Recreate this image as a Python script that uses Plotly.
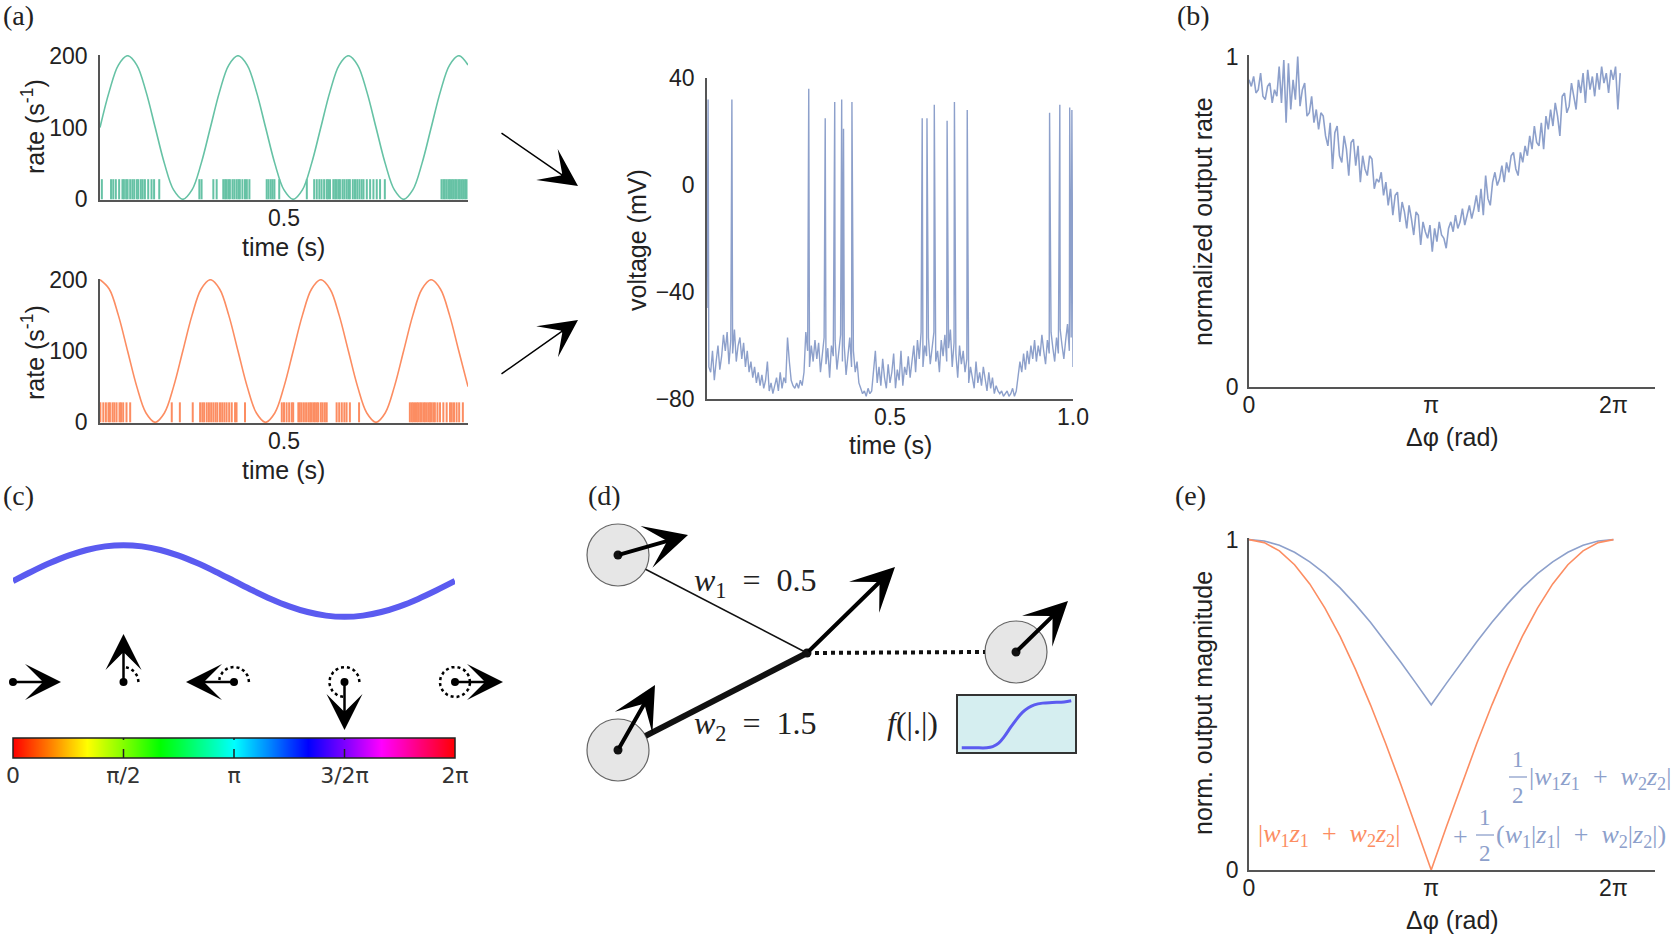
import numpy as np
import plotly.graph_objects as go

W, H = 1678, 934
PI = np.pi
SANS = 'Liberation Sans'
SERIF = 'Liberation Serif'
GREEN, ORANGE, BLUE = '#66c2a5', '#fc8d62', '#8da0cb'
WAVE = '#5b5bf0'

# ---------------- data ----------------
# (a) input rates (s^-1), read off every 25 ms
rate_t = [i * 0.025 for i in range(41)]
rate_in1 = [100, 150, 187, 200, 187, 150, 100, 50, 13, 0, 13, 50,
            100, 150, 187, 200, 187, 150, 100, 50, 13, 0, 13, 50,
            100, 150, 187, 200, 187, 150, 100, 50, 13, 0, 13, 50,
            100, 150, 187, 200, 187]
rate_in2 = [200, 187, 150, 100, 50, 13, 0, 13, 50, 100, 150, 187,
            200, 187, 150, 100, 50, 13, 0, 13, 50, 100, 150, 187,
            200, 187, 150, 100, 50, 13, 0, 13, 50, 100, 150, 187,
            200, 187, 150, 100, 50]
spikes_in1 = [0.005, 0.030, 0.036, 0.043, 0.052, 0.061, 0.065, 0.071, 0.075, 0.082,
              0.088, 0.093, 0.100, 0.104, 0.111, 0.116, 0.122, 0.131, 0.140, 0.147,
              0.161, 0.270, 0.276, 0.308, 0.317, 0.335, 0.340, 0.344, 0.349, 0.353,
              0.360, 0.365, 0.371, 0.376, 0.380, 0.387, 0.394, 0.399, 0.406, 0.453,
              0.458, 0.464, 0.469, 0.474, 0.487, 0.562, 0.582, 0.589, 0.596, 0.602,
              0.609, 0.616, 0.620, 0.625, 0.634, 0.639, 0.643, 0.648, 0.652, 0.659,
              0.664, 0.670, 0.675, 0.679, 0.687, 0.693, 0.699, 0.705, 0.711, 0.716,
              0.725, 0.734, 0.743, 0.752, 0.761, 0.774, 0.928, 0.933, 0.937, 0.942,
              0.947, 0.951, 0.956, 0.960, 0.965, 0.969, 0.974, 0.978, 0.983, 0.987,
              0.992, 0.996]
spikes_in2 = [0.001, 0.009, 0.016, 0.023, 0.027, 0.034, 0.039, 0.045, 0.053, 0.057,
              0.063, 0.072, 0.082, 0.195, 0.217, 0.252, 0.272, 0.278, 0.283, 0.290,
              0.296, 0.302, 0.308, 0.314, 0.319, 0.326, 0.332, 0.338, 0.344, 0.351,
              0.358, 0.367, 0.371, 0.394, 0.494, 0.500, 0.507, 0.514, 0.521, 0.525,
              0.539, 0.543, 0.548, 0.554, 0.560, 0.566, 0.571, 0.575, 0.580, 0.584,
              0.589, 0.593, 0.600, 0.605, 0.611, 0.616, 0.643, 0.650, 0.657, 0.664,
              0.670, 0.679, 0.704, 0.842, 0.847, 0.851, 0.856, 0.861, 0.865, 0.870,
              0.874, 0.879, 0.883, 0.888, 0.893, 0.897, 0.901, 0.906, 0.910, 0.917,
              0.924, 0.933, 0.942, 0.951, 0.956, 0.962, 0.969, 0.976, 0.986]
raster_top = 28

# (a, right) membrane voltage (mV), sub-threshold samples every 5 ms
v_t = [i * 0.005 for i in range(201)]
v_base = [-46, -68, -70, -62, -73, -66, -60, -69, -64, -56,
          -62, -55, -67, -58, -63, -54, -66, -60, -57, -65,
          -59, -68, -62, -70, -66, -72, -68, -74, -70, -75,
          -71, -76, -73, -66, -77, -74, -78, -75, -72, -77,
          -70, -76, -72, -74, -57, -66, -73, -75, -76, -74,
          -76, -73, -75, -70, -55, -62, -68, -60, -66, -58,
          -65, -59, -70, -63, -57, -67, -61, -72, -60, -64,
          -58, -69, -62, -56, -66, -60, -71, -63, -57, -68,
          -62, -70, -66, -74, -76, -78, -77, -79, -76, -78,
          -77, -70, -62, -74, -68, -75, -65, -72, -76, -67,
          -74, -70, -63, -76, -69, -73, -62, -75, -68, -71,
          -64, -72, -66, -60, -70, -58, -65, -55, -68, -60,
          -64, -57, -67, -60, -55, -66, -62, -70, -58, -64,
          -56, -66, -61, -54, -68, -59, -63, -72, -60, -67,
          -62, -70, -65, -74, -68, -72, -76, -66, -74, -70,
          -75, -68, -73, -77, -70, -76, -72, -78, -75, -77,
          -78, -77, -79, -78, -77, -79, -78, -76, -79, -77,
          -72, -66, -70, -63, -69, -62, -67, -60, -65, -58,
          -66, -60, -64, -56, -62, -67, -58, -63, -55, -61,
          -66, -57, -63, -54, -60, -65, -58, -52, -62, -57,
          -68]
ap_t = [0.003, 0.068, 0.278, 0.323, 0.349, 0.368, 0.373, 0.396, 0.588,
        0.601, 0.621, 0.656, 0.676, 0.711, 0.936, 0.964, 0.991, 0.997]
ap_peak = [32, 32, 36, 25, 31, 32, 21, 31, 25, 25, 30, 24, 31, 28, 27, 30, 29, 28]

# (b) normalized output rate vs phase difference, every 0.04 rad
dphi = [i * 0.04 for i in range(161)]
out_rate = [0.93, 0.91, 0.94, 0.89, 0.90, 0.95, 0.88, 0.87, 0.91, 0.92,
            0.86, 0.90, 0.88, 0.97, 0.86, 0.99, 0.80, 0.98, 0.84, 0.93,
            0.87, 1.00, 0.85, 0.90, 0.92, 0.82, 0.83, 0.88, 0.80, 0.84,
            0.78, 0.83, 0.82, 0.76, 0.73, 0.80, 0.66, 0.77, 0.79, 0.70,
            0.68, 0.76, 0.72, 0.64, 0.74, 0.75, 0.67, 0.73, 0.62, 0.70,
            0.66, 0.64, 0.70, 0.69, 0.60, 0.63, 0.62, 0.65, 0.58, 0.62,
            0.55, 0.60, 0.52, 0.58, 0.59, 0.50, 0.56, 0.53, 0.48, 0.55,
            0.51, 0.46, 0.53, 0.52, 0.43, 0.50, 0.47, 0.45, 0.49, 0.41,
            0.48, 0.44, 0.50, 0.46, 0.45, 0.42, 0.48, 0.50, 0.47, 0.52,
            0.48, 0.50, 0.54, 0.49, 0.52, 0.55, 0.51, 0.54, 0.58, 0.53,
            0.60, 0.52, 0.64, 0.57, 0.55, 0.62, 0.65, 0.61, 0.63, 0.67,
            0.62, 0.68, 0.65, 0.70, 0.71, 0.66, 0.64, 0.71, 0.68, 0.73,
            0.70, 0.76, 0.72, 0.79, 0.74, 0.73, 0.80, 0.72, 0.82, 0.78,
            0.84, 0.79, 0.86, 0.82, 0.76, 0.88, 0.89, 0.83, 0.85, 0.92,
            0.88, 0.84, 0.93, 0.89, 0.95, 0.86, 0.96, 0.90, 0.94, 0.88,
            0.95, 0.90, 0.97, 0.92, 0.95, 0.89, 0.96, 0.93, 0.97, 0.84,
            0.95]

# (c), (e) phase grid, 15 degree steps
phase = [k * PI / 12 for k in range(25)]
wave = [0, 0.259, 0.5, 0.707, 0.866, 0.966, 1, 0.966, 0.866, 0.707, 0.5, 0.259,
        0, -0.259, -0.5, -0.707, -0.866, -0.966, -1, -0.966, -0.866, -0.707, -0.5, -0.259, 0]
mag_sum = [1, 0.991, 0.966, 0.924, 0.866, 0.793, 0.707, 0.609, 0.5, 0.383, 0.259, 0.131, 0,
           0.131, 0.259, 0.383, 0.5, 0.609, 0.707, 0.793, 0.866, 0.924, 0.966, 0.991, 1]
mag_mix = [1, 0.996, 0.983, 0.962, 0.933, 0.897, 0.854, 0.804, 0.75, 0.691, 0.629, 0.565, 0.5,
           0.565, 0.629, 0.691, 0.75, 0.804, 0.854, 0.897, 0.933, 0.962, 0.983, 0.996, 1]
phase_ticks = [0, PI / 2, PI, 3 * PI / 2, 2 * PI]
phase_labels = ['0', 'π/2', 'π', '3/2π', '2π']

# (d) output nonlinearity sketch
sig_x = [0.04, 0.15, 0.25, 0.30, 0.35, 0.40, 0.45, 0.50, 0.55, 0.60, 0.65, 0.72, 0.80, 0.90, 0.96]
sig_y = [0.09, 0.09, 0.09, 0.11, 0.17, 0.29, 0.44, 0.58, 0.70, 0.78, 0.83, 0.86, 0.87, 0.88, 0.90]


# ---------------- helpers ----------------
def xdom(a, b):
    return [a / W, b / W]


def ydom(top, bottom):
    return [1 - bottom / H, 1 - top / H]


def axis(dom, rng, **kw):
    d = dict(domain=dom, range=rng, showgrid=False, zeroline=False, showline=True,
             linecolor='#555', linewidth=1.5, ticks='', fixedrange=True, automargin=False,
             tickfont=dict(family=SANS, size=23, color='#222'))
    d.update(kw)
    return d


def hidden(dom, rng, anchor):
    return dict(domain=dom, range=rng, visible=False, fixedrange=True, anchor=anchor, automargin=False)


def raster(ts, top):
    xs, ys = [], []
    for t in ts:
        xs += [t, t, None]
        ys += [0, top, None]
    return xs, ys


def note(x, y, text, size=25, angle=0, family=SANS, color='#222', xanchor='center'):
    return dict(x=x / W, y=1 - y / H, xref='paper', yref='paper', text=text, showarrow=False,
                textangle=angle, xanchor=xanchor, yanchor='middle',
                font=dict(family=family, size=size, color=color))


def arrow(x0, y0, x1, y1, width, size, color='black'):
    return dict(x=x1, y=y1, ax=x0, ay=y0, xref='x8', yref='y8', axref='x8', ayref='y8',
                text='', showarrow=True, arrowhead=3, arrowsize=size, arrowwidth=width,
                arrowcolor=color)


fig = go.Figure()

# (a) inputs
for rates, spikes, col, xa, ya in [(rate_in1, spikes_in1, GREEN, 'x', 'y'),
                                   (rate_in2, spikes_in2, ORANGE, 'x2', 'y2')]:
    rx, ry = raster(spikes, raster_top)
    fig.add_trace(go.Scatter(x=rx, y=ry, mode='lines', line=dict(color=col, width=2),
                             xaxis=xa, yaxis=ya, hoverinfo='skip'))
    fig.add_trace(go.Scatter(x=rate_t, y=rates, mode='lines',
                             line=dict(color=col, width=1.6, shape='spline'),
                             xaxis=xa, yaxis=ya))

# voltage trace: sub-threshold samples with action potentials merged in
pts = sorted(list(zip(v_t, v_base)) + list(zip(ap_t, ap_peak)))
fig.add_trace(go.Scatter(x=[p[0] for p in pts], y=[p[1] for p in pts], mode='lines',
                         line=dict(color=BLUE, width=1.4), xaxis='x3', yaxis='y3'))

# (b)
fig.add_trace(go.Scatter(x=dphi, y=out_rate, mode='lines', line=dict(color=BLUE, width=1.6),
                         xaxis='x4', yaxis='y4'))

# (e)
fig.add_trace(go.Scatter(x=phase, y=mag_mix, mode='lines', line=dict(color=BLUE, width=1.6),
                         xaxis='x5', yaxis='y5'))
fig.add_trace(go.Scatter(x=phase, y=mag_sum, mode='lines', line=dict(color=ORANGE, width=1.6),
                         xaxis='x5', yaxis='y5'))

# (c) wave and phase colour bar
fig.add_trace(go.Scatter(x=phase, y=wave, mode='lines', line=dict(color=WAVE, width=6, shape='spline'),
                         xaxis='x6', yaxis='y6'))
hsv = [[0, '#ff0000'], [1 / 6, '#ffff00'], [2 / 6, '#00ff00'], [3 / 6, '#00ffff'],
       [4 / 6, '#0000ff'], [5 / 6, '#ff00ff'], [1, '#ff0000']]
fig.add_trace(go.Heatmap(x=phase, y=[0], z=[phase], zmin=0, zmax=2 * PI, colorscale=hsv,
                         zsmooth='best', showscale=False, xaxis='x7', yaxis='y7', hoverinfo='skip'))
tx, ty = [], []
for p in phase_ticks[1:4]:
    tx += [p, p, None]
    ty += [-0.5, 0.5, None]
fig.add_trace(go.Scatter(x=tx, y=ty, mode='lines', line=dict(color='#222', width=1.5, dash='dash'),
                         xaxis='x7', yaxis='y7'))

# (c) phase arrows (pixel overlay)
C_X0, C_W, C_Y, L, R = 13, 442, 682, 48, 15
ann = []
ox_all = []
for p in phase_ticks:
    ox = C_X0 + p / (2 * PI) * C_W
    ox_all.append(ox)
    ann.append(arrow(ox, C_Y, ox + L * np.cos(p), C_Y - L * np.sin(p), 2.5, 2.4))
    if p > 0:
        th = np.linspace(0, p, 40)
        fig.add_trace(go.Scatter(x=ox + R * np.cos(th), y=C_Y - R * np.sin(th), mode='lines',
                                 line=dict(color='black', width=2.5, dash='dot'),
                                 xaxis='x8', yaxis='y8'))
fig.add_trace(go.Scatter(x=ox_all, y=[C_Y] * len(ox_all), mode='markers',
                         marker=dict(color='black', size=8), xaxis='x8', yaxis='y8'))

# (d) network sketch
inputs = [(618, 555), (618, 750)]
junc = (807, 653)
outn = (1016, 652)
RC = 31
shapes = []
for cx, cy in inputs + [outn]:
    shapes.append(dict(type='circle', xref='x8', yref='y8', x0=cx - RC, x1=cx + RC,
                       y0=cy - RC, y1=cy + RC, fillcolor='#e6e6e6',
                       line=dict(color='#666', width=1.2), layer='below'))
for (cx, cy), lw in zip(inputs, [1.5, 6]):
    dx, dy = junc[0] - cx, junc[1] - cy
    n = np.hypot(dx, dy)
    fig.add_trace(go.Scatter(x=[cx + RC * dx / n, junc[0]], y=[cy + RC * dy / n, junc[1]],
                             mode='lines', line=dict(color='#111', width=lw),
                             xaxis='x8', yaxis='y8'))
fig.add_trace(go.Scatter(x=[junc[0], outn[0] - RC], y=[junc[1], outn[1]], mode='lines',
                         line=dict(color='#111', width=4, dash='dot'), xaxis='x8', yaxis='y8'))
fig.add_trace(go.Scatter(x=[inputs[0][0], inputs[1][0], junc[0], outn[0]],
                         y=[inputs[0][1], inputs[1][1], junc[1], outn[1]], mode='markers',
                         marker=dict(color='#111', size=9), xaxis='x8', yaxis='y8'))
ann += [arrow(618, 555, 688, 535, 4, 1.8), arrow(618, 750, 655, 685, 4, 1.8),
        arrow(807, 653, 895, 567, 4, 1.8), arrow(1016, 652, 1068, 601, 4, 1.8)]
# arrows from inputs to the neuron in (a)
ann += [arrow(500, 132, 578, 186, 1.5, 4.2), arrow(500, 375, 578, 320, 1.5, 4.2)]

fig.add_trace(go.Scatter(x=sig_x, y=sig_y, mode='lines', line=dict(color=WAVE, width=3, shape='spline'),
                         xaxis='x9', yaxis='y9'))
shapes.append(dict(type='rect', xref='x9 domain', yref='y9 domain', x0=0, x1=1, y0=0, y1=1,
                   fillcolor='#d5eef0', line=dict(color='#333', width=2), layer='below'))
shapes.append(dict(type='rect', xref='x7 domain', yref='y7 domain', x0=0, x1=1, y0=0, y1=1,
                   line=dict(color='#222', width=1.5), layer='above'))

# fraction bars in (e)
for x0, x1, y in [(1509, 1527, 777), (1476, 1494, 835)]:
    shapes.append(dict(type='line', xref='x8', yref='y8', x0=x0, x1=x1, y0=y, y1=y,
                       line=dict(color=BLUE, width=1.3)))

# texts
wz = '<i>w</i><sub>{0}</sub><i>z</i><sub>{0}</sub>'
ann += [
    note(18, 15, '(a)', 28, family=SERIF), note(1193, 15, '(b)', 28, family=SERIF),
    note(18, 495, '(c)', 28, family=SERIF), note(604, 495, '(d)', 28, family=SERIF),
    note(1190, 495, '(e)', 28, family=SERIF),
    note(283, 247, 'time (s)'), note(33, 127, 'rate (s<sup>-1</sup>)', angle=-90),
    note(283, 470, 'time (s)'), note(33, 353, 'rate (s<sup>-1</sup>)', angle=-90),
    note(890, 445, 'time (s)'), note(637, 240, 'voltage (mV)', angle=-90),
    note(1452, 437, 'Δφ (rad)'), note(1203, 222, 'normalized output rate', angle=-90),
    note(1452, 920, 'Δφ (rad)'), note(1203, 703, 'norm. output magnitude', angle=-90),
    note(755, 582, '<i>w</i><sub>1</sub>  =  0.5', 32, family=SERIF),
    note(755, 725, '<i>w</i><sub>2</sub>  =  1.5', 32, family=SERIF),
    note(912, 723, '<i>f</i>(|.|)', 32, family=SERIF),
    note(1329, 835, '|' + wz.format(1) + '  +  ' + wz.format(2) + '|', 26, family=SERIF, color=ORANGE),
    note(1518, 759, '1', 23, family=SERIF, color=BLUE),
    note(1518, 795, '2', 23, family=SERIF, color=BLUE),
    note(1527, 778, '|' + wz.format(1) + '  +  ' + wz.format(2) + '|', 26, family=SERIF,
         color=BLUE, xanchor='left'),
    note(1460, 836, '+', 26, family=SERIF, color=BLUE),
    note(1485, 817, '1', 23, family=SERIF, color=BLUE),
    note(1485, 853, '2', 23, family=SERIF, color=BLUE),
    note(1494, 836, '(<i>w</i><sub>1</sub>|<i>z</i><sub>1</sub>|  +  <i>w</i><sub>2</sub>|<i>z</i><sub>2</sub>|)',
         26, family=SERIF, color=BLUE, xanchor='left'),
]

fig.update_layout(
    width=W, height=H, margin=dict(l=0, r=0, t=0, b=0, autoexpand=False), showlegend=False,
    paper_bgcolor='white', plot_bgcolor='rgba(0,0,0,0)',
    xaxis=axis(xdom(100, 468), [0, 1], tickvals=[0.5], ticktext=['0.5'], anchor='y', ticklabelstandoff=-3),
    yaxis=axis(ydom(55, 200), [-1, 201], tickvals=[0, 100, 200], anchor='x', ticklabelstandoff=6),
    xaxis2=axis(xdom(100, 468), [0, 1], tickvals=[0.5], ticktext=['0.5'], anchor='y2', ticklabelstandoff=-3),
    yaxis2=axis(ydom(279, 423), [-1, 201], tickvals=[0, 100, 200], anchor='x2', ticklabelstandoff=6),
    xaxis3=axis(xdom(707, 1073), [0, 1], tickvals=[0.5, 1.0], ticktext=['0.5', '1.0'], anchor='y3',
                ticklabelstandoff=-3),
    yaxis3=axis(ydom(78, 399), [-80, 40], tickvals=[-80, -40, 0, 40], ticktext=['−80', '−40', '0', '40'],
                anchor='x3', ticklabelstandoff=6),
    xaxis4=axis(xdom(1249, 1655), [0, 7.0], tickvals=[0, PI, 2 * PI], ticktext=['0', 'π', '2π'],
                anchor='y4', ticklabelstandoff=-3),
    yaxis4=axis(ydom(55, 387), [0, 1.005], tickvals=[0, 1], anchor='x4', ticklabelstandoff=4),
    xaxis5=axis(xdom(1249, 1655), [0, 7.0], tickvals=[0, PI, 2 * PI], ticktext=['0', 'π', '2π'],
                anchor='y5', ticklabelstandoff=-3),
    yaxis5=axis(ydom(538, 870), [0, 1.005], tickvals=[0, 1], anchor='x5', ticklabelstandoff=4),
    xaxis6=hidden(xdom(13, 455), [0, 2 * PI], 'y6'),
    yaxis6=hidden(ydom(538, 624), [-1.2, 1.2], 'x6'),
    xaxis7=dict(domain=xdom(13, 455), range=[0, 2 * PI], anchor='y7', showline=False, showgrid=False,
                zeroline=False, ticks='', tickvals=phase_ticks, ticktext=phase_labels, fixedrange=True,
                automargin=False, tickfont=dict(family='DejaVu Sans', size=22, color='#333'),
                ticklabelstandoff=2),
    yaxis7=hidden(ydom(738, 758), [-0.5, 0.5], 'x7'),
    xaxis8=hidden([0, 1], [0, W], 'y8'),
    yaxis8=hidden([0, 1], [H, 0], 'x8'),
    xaxis9=hidden(xdom(957, 1076), [0, 1], 'y9'),
    yaxis9=hidden(ydom(695, 753), [0, 1], 'x9'),
    shapes=shapes, annotations=ann,
)

# page margin off so the 1678x934 figure fills the window exactly
fig.write_html("out.html", config={'displayModeBar': False},
               post_script="document.body.style.margin='0px';")
